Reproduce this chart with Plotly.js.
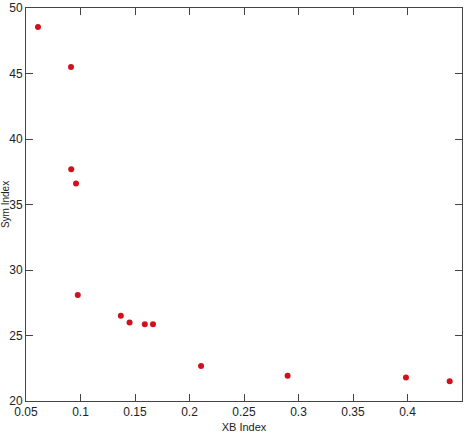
<!DOCTYPE html>
<html>
<head>
<meta charset="utf-8">
<script src="https://cdn.plot.ly/plotly-3.0.1.min.js"></script>
<style>
  html, body { margin: 0; padding: 0; background: #fff; }
  #chart { width: 474px; height: 436px; }
</style>
</head>
<body>
<div id="chart"></div>
<script>
// values
const xbIndex = [0.061, 0.0913, 0.0915, 0.0959, 0.0975, 0.137, 0.145, 0.159, 0.1665, 0.2106, 0.290, 0.3986, 0.4387];
const symIndex = [48.55, 45.5, 37.7, 36.6, 28.1, 26.5, 26.0, 25.85, 25.85, 22.67, 21.93, 21.8, 21.5];

const xTicks = [0.05, 0.1, 0.15, 0.2, 0.25, 0.3, 0.35, 0.4, 0.45];
const xTickText = ['0.05', '0.1', '0.15', '0.2', '0.25', '0.3', '0.35', '0.4', '0.45'];
const yTicks = [20, 25, 30, 35, 40, 45, 50];

const tickFont = { family: 'Liberation Sans Narrow, Arial Narrow, sans-serif', size: 12, color: '#222' };

const data = [
    {
        x: xbIndex,
        y: symIndex,
        type: 'scatter',
        mode: 'markers',
        marker: { color: '#d0101c', size: 6 },
        hoverinfo: 'x+y'
    }
];

const layout = {
    width: 474,
    height: 436,
    margin: { l: 26, r: 12, t: 8, b: 35 },
    paper_bgcolor: '#fff',
    plot_bgcolor: '#fff',
    showlegend: false,
    xaxis: {
        range: [0.05, 0.45],
        tickvals: xTicks,
        ticktext: xTickText,
        ticks: 'inside',
        ticklen: 7,
        tickcolor: '#444',
        showline: true,
        linecolor: '#444',
        linewidth: 1,
        mirror: 'ticks',
        showgrid: false,
        zeroline: false,
        tickfont: tickFont,
        title: {
            text: 'XB Index',
            font: { family: 'Liberation Sans Narrow, Arial Narrow, sans-serif', size: 11, color: '#222' },
            standoff: 4
        }
    },
    yaxis: {
        range: [20, 50],
        tickvals: yTicks,
        ticks: 'inside',
        ticklen: 7,
        tickcolor: '#444',
        showline: true,
        linecolor: '#444',
        linewidth: 1,
        mirror: 'ticks',
        showgrid: false,
        zeroline: false,
        tickfont: tickFont,
        title: {
            text: 'Sym Index',
            font: { family: 'Liberation Sans, Arial, sans-serif', size: 10, color: '#222' },
            standoff: 2
        }
    }
};

Plotly.newPlot('chart', data, layout, { displayModeBar: false, staticPlot: true });
</script>
</body>
</html>
